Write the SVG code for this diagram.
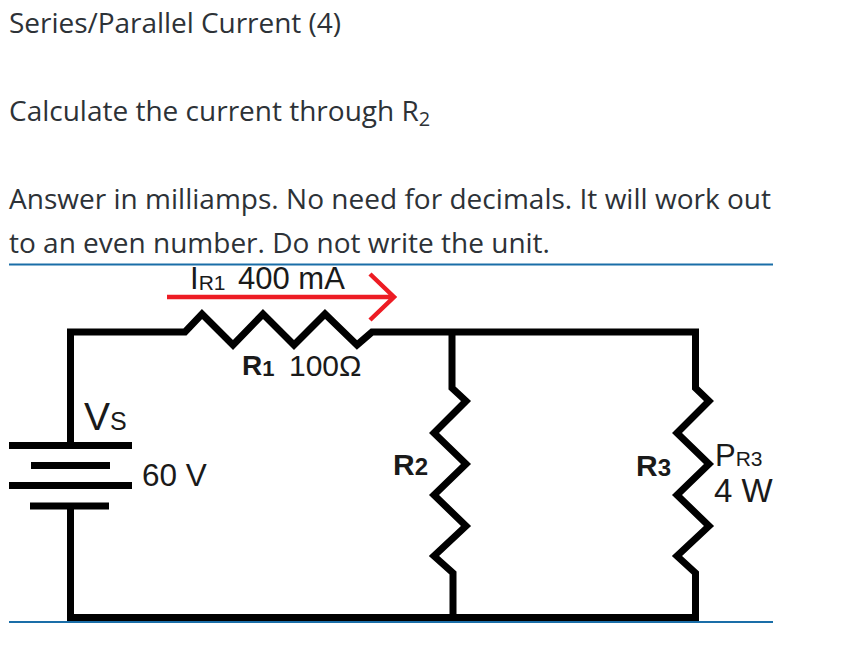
<svg xmlns="http://www.w3.org/2000/svg" width="842" height="653" viewBox="0 0 842 653">
<style>
.q{font-family:"Open Sans",sans-serif;font-size:28px;fill:#2d3237}
.l{font-family:"Liberation Sans",Arial,sans-serif;fill:#1a1a1a}
.b{font-weight:bold}
.w{fill:none;stroke:#000;stroke-width:7;stroke-linejoin:miter;stroke-miterlimit:3}
.rule{stroke:#1a6ea8;stroke-width:2;fill:none}
.plate{stroke:#000;stroke-width:7;fill:none}
</style>
<rect width="842" height="653" fill="#fff"/>
<g id="question">
<text class="q" x="9" y="33" textLength="332">Series/Parallel Current (4)</text>
<text class="q" x="9" y="121">Calculate the current through R<tspan font-size="20" dy="5">2</tspan></text>
<text class="q" x="9" y="209" textLength="762">Answer in milliamps. No need for decimals. It will work out</text>
<text class="q" x="9" y="253">to an even number. Do not write the unit.</text>
</g>
<g id="rules">
<path class="rule" d="M9 264.500H773"/>
<path class="rule" d="M9 622H773"/>
</g>
<g id="connectors">
<path class="w" d="M70.500 442V332H185L202 314L233 345L263 314L294 345L325 314L357 345L372 332H699"/>
<path class="w" d="M452 332V388L466 401L434 433L466 464L434 495L466 526L434 556L453 573V617"/>
<path class="w" d="M695.500 332V388L709 401L677 433L709 464L677 495L709 526L677 556L695.500 573V617"/>
<path class="w" d="M70.500 506V617.500H699"/>
</g>
<g id="battery">
<path class="plate" d="M9 445.500H132"/>
<path class="plate" d="M31 465.500H110"/>
<path class="plate" d="M9 485.500H132"/>
<path class="plate" d="M30 506H109"/>
<text class="l" x="84" y="430" font-size="39">V<tspan font-size="25">S</tspan></text>
<text class="l" x="142" y="486" font-size="31.500">60 V</text>
</g>
<g id="current">
<path d="M167 297H394M370 274L394 297L370 320" fill="none" stroke="#ed1c24" stroke-width="4.500"/>
<text class="l" x="190" y="289" font-size="31">I<tspan font-size="21" dy="1">R1</tspan></text>
<text class="l" x="238" y="289" font-size="31">400 mA</text>
</g>
<g id="r1">
<text class="l b" x="242" y="375" font-size="28">R<tspan font-size="22" dy="1">1</tspan></text>
<text class="l" x="289" y="376" font-size="30">100Ω</text>
</g>
<g id="r2"><text class="l b" x="393" y="475" font-size="30">R<tspan font-size="24">2</tspan></text></g>
<g id="r3">
<text class="l b" x="636" y="476" font-size="30">R<tspan font-size="24">3</tspan></text>
<text class="l" x="715" y="466" font-size="31">P<tspan font-size="21">R3</tspan></text>
<text class="l" x="714" y="502" font-size="33">4 W</text>
</g>
</svg>
